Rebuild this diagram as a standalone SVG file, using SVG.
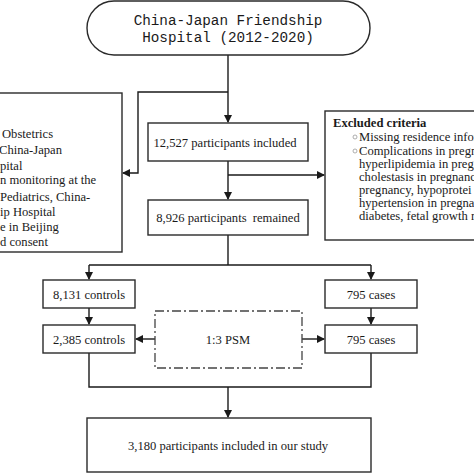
<svg xmlns="http://www.w3.org/2000/svg" width="474" height="474" viewBox="0 0 474 474">
<defs>
<style>
.box{fill:#fff;stroke:#2a2a2a;stroke-width:1.4}
.ln{fill:none;stroke:#1a1a1a;stroke-width:1.4}
.t{font-family:"Liberation Serif","Times New Roman",serif;font-size:12.6px;fill:#1a1a1a;white-space:pre}
.c{text-anchor:middle}
.m{font-family:"Liberation Mono","Courier New",monospace;font-size:14.3px;fill:#1a1a1a;text-anchor:middle}
.b{font-weight:bold}
.bul{fill:none;stroke:#999;stroke-width:0.8}
</style>
<marker id="ah" markerWidth="8" markerHeight="8" refX="7" refY="4" orient="auto" markerUnits="userSpaceOnUse">
<path d="M0,0 L8,4 L0,8 Z" fill="#1a1a1a"/>
</marker>
</defs>
<rect width="474" height="474" fill="#fff"/>

<g id="connectors">
<path class="ln" d="M228,55 V122" marker-end="url(#ah)"/>
<path class="ln" d="M228,92 H138 V173 H123" marker-end="url(#ah)"/>
<path class="ln" d="M228,161 V199" marker-end="url(#ah)"/>
<path class="ln" d="M228,175 H324" marker-end="url(#ah)"/>
<path class="ln" d="M228,235 V265"/>
<path class="ln" d="M89,265 H371"/>
<path class="ln" d="M89,265 V279" marker-end="url(#ah)"/>
<path class="ln" d="M371,265 V279" marker-end="url(#ah)"/>
<path class="ln" d="M89,308 V324" marker-end="url(#ah)"/>
<path class="ln" d="M371,308 V324" marker-end="url(#ah)"/>
<path class="ln" d="M155,339 H136" marker-end="url(#ah)"/>
<path class="ln" d="M302,339 H324" marker-end="url(#ah)"/>
<path class="ln" d="M89,353 V387 H371 V353"/>
<path class="ln" d="M228,387 V417" marker-end="url(#ah)"/>
</g>

<g id="hospital">
<rect class="box" x="87" y="1" width="283" height="54" rx="27" ry="27"/>
<text class="m" x="228" y="25">China-Japan Friendship</text>
<text class="m" x="228" y="42">Hospital (2012-2020)</text>
</g>

<g id="inclusion">
<rect class="box" x="-10" y="93" width="132" height="159"/>
<text class="t" x="2" y="138">Obstetrics</text>
<text class="t" x="-1" y="154">China-Japan</text>
<text class="t" x="0" y="170">pital</text>
<text class="t" x="0" y="184">n monitoring at the</text>
<text class="t" x="0" y="201">Pediatrics, China-</text>
<text class="t" x="0" y="216">ip Hospital</text>
<text class="t" x="0" y="231">e in Beijing</text>
<text class="t" x="0" y="246">d consent</text>
</g>

<g id="included">
<rect class="box" x="148" y="123" width="160" height="38"/>
<text class="t c" x="225" y="147">12,527 participants included</text>
</g>

<g id="excluded">
<rect class="box" x="325" y="111" width="160" height="129"/>
<text class="t b" x="333" y="127">Excluded criteria</text>
<circle class="bul" cx="355" cy="137" r="2"/>
<circle class="bul" cx="355" cy="151" r="2"/>
<text class="t" x="359" y="141">Missing residence infor</text>
<text class="t" x="359" y="155">Complications in pregna</text>
<text class="t" x="359" y="168">hyperlipidemia in pregna</text>
<text class="t" x="359" y="181">cholestasis in pregnanc</text>
<text class="t" x="359" y="194">pregnancy, hypoprotei</text>
<text class="t" x="359" y="207">hypertension in pregna</text>
<text class="t" x="359" y="220">diabetes, fetal growth re</text>
</g>

<g id="remained">
<rect class="box" x="148" y="200" width="160" height="35"/>
<text class="t c" x="228" y="222">8,926 participants  remained</text>
</g>

<g id="controls1">
<rect class="box" x="43" y="280" width="92" height="28"/>
<text class="t c" x="89" y="299">8,131 controls</text>
</g>

<g id="cases1">
<rect class="box" x="325" y="280" width="92" height="28"/>
<text class="t c" x="371" y="299">795 cases</text>
</g>

<g id="controls2">
<rect class="box" x="43" y="325" width="92" height="28"/>
<text class="t c" x="89" y="344">2,385 controls</text>
</g>

<g id="cases2">
<rect class="box" x="325" y="325" width="92" height="28"/>
<text class="t c" x="371" y="344">795 cases</text>
</g>

<g id="psm">
<rect x="155" y="311" width="147" height="57" fill="#fff" stroke="#444" stroke-width="1.3" stroke-dasharray="9,3,2,3"/>
<text class="t c" x="228" y="344">1:3 PSM</text>
</g>

<g id="final">
<rect class="box" x="87" y="418" width="284" height="54"/>
<text class="t c" x="228" y="450">3,180 participants included in our study</text>
</g>
</svg>
